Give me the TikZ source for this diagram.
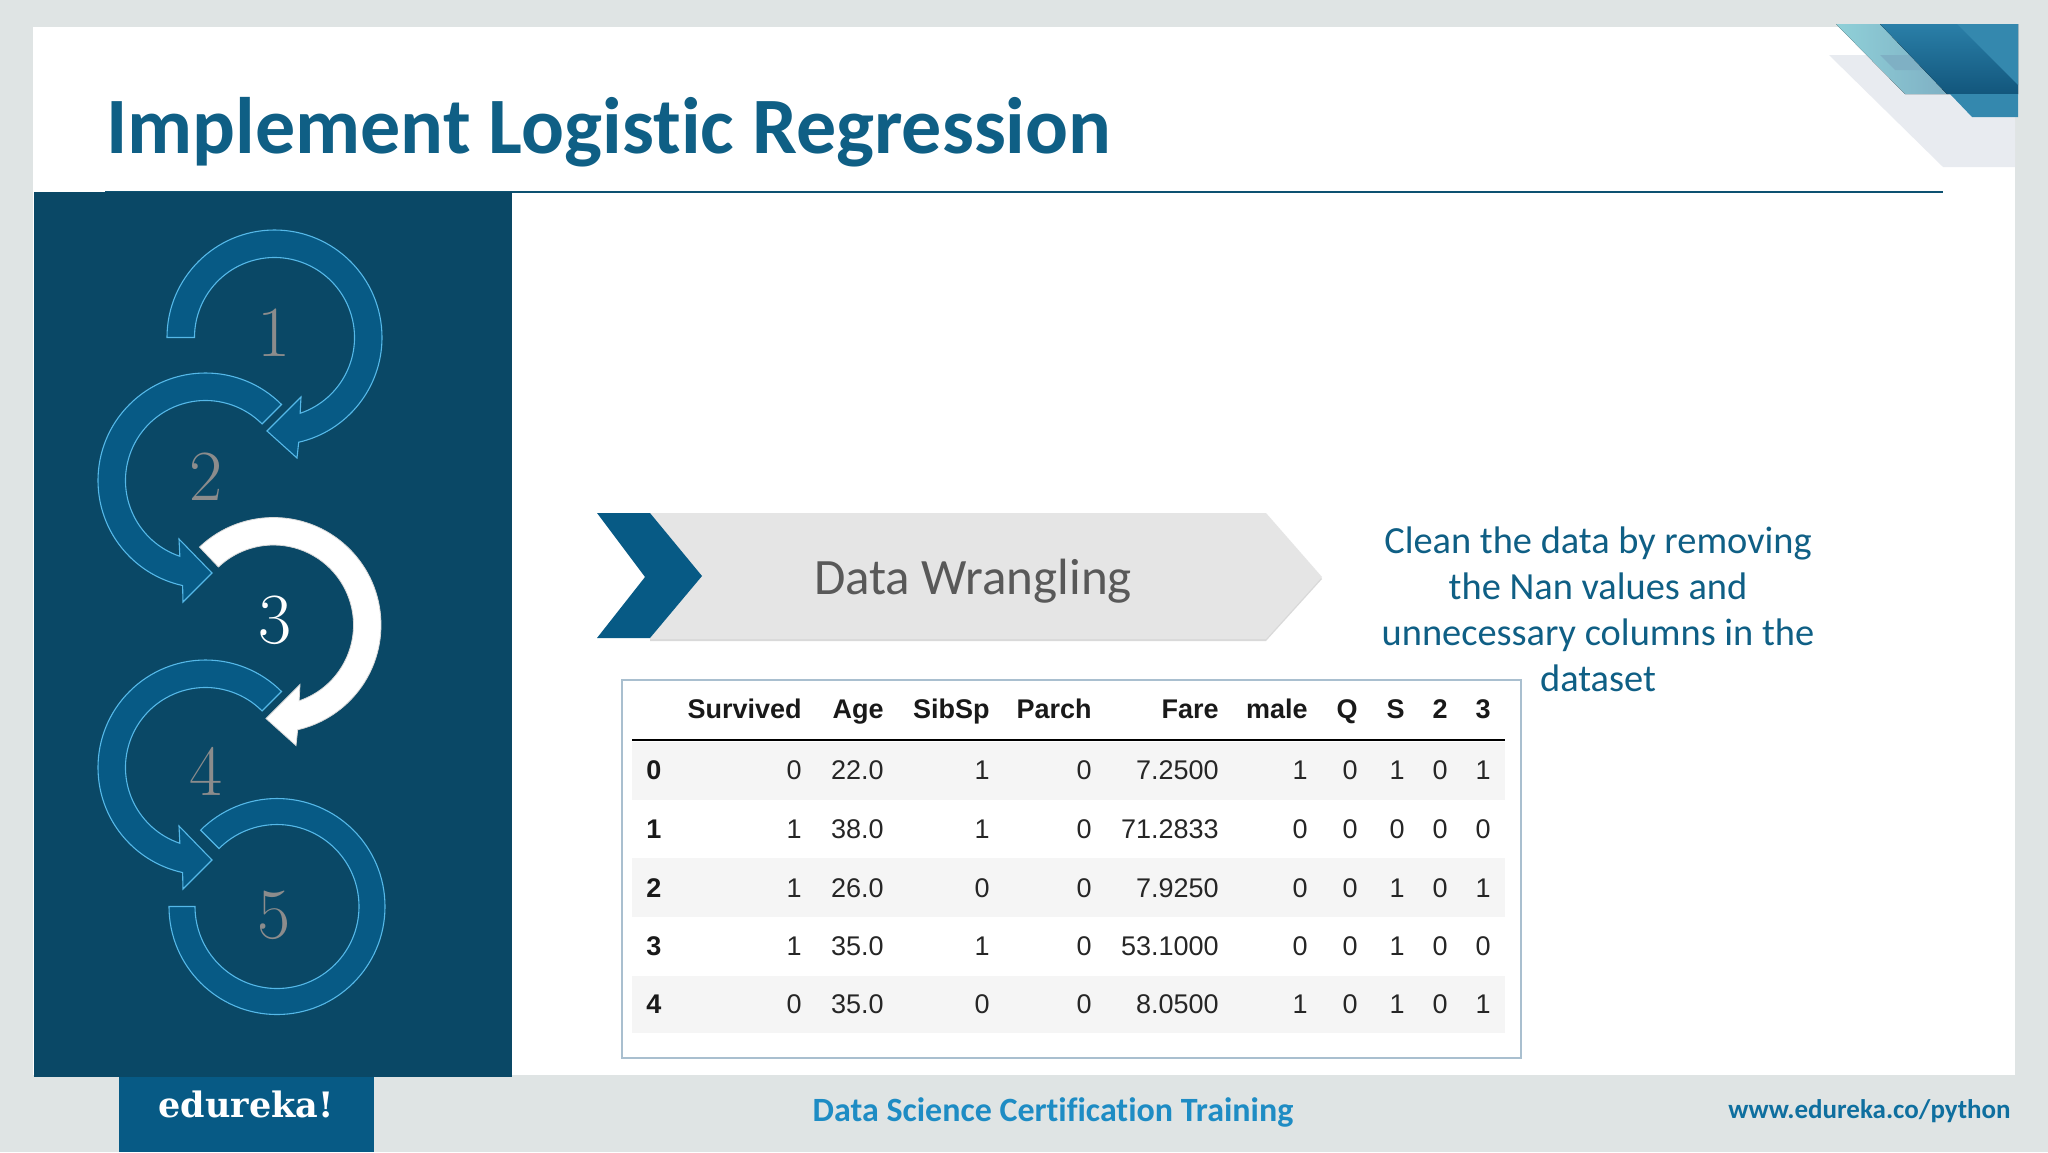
\documentclass[tikz,border=0pt]{standalone}
\usepackage{fontspec}
\newfontfamily\slidefont[Ligatures=NoCommon]{Carlito}
\newfontfamily\tablefont{Liberation Sans}
\newfontfamily\logofont{DejaVu Serif}
\definecolor{pagegray}{HTML}{DFE4E4}
\definecolor{panelblue}{HTML}{0A4866}
\definecolor{ringblue}{HTML}{075A85}
\definecolor{ringline}{HTML}{55B8E8}
\definecolor{titleblue}{HTML}{0F5F85}
\definecolor{footblue}{HTML}{1E8CC4}
\definecolor{siteblue}{HTML}{0F6F9F}
\definecolor{stripe}{HTML}{F5F5F5}
\definecolor{tableline}{HTML}{A9BFCF}
\definecolor{bandgray}{HTML}{E8EBF0}
\definecolor{tealone}{HTML}{8FD0D8}
\definecolor{tealtwo}{HTML}{7FB0C4}
\definecolor{deepone}{HTML}{2A7FA8}
\definecolor{deeptwo}{HTML}{12567C}
\definecolor{midblue}{HTML}{3488AE}
% clockwise ring, head at the bottom: cx, cy, start angle, style
\newcommand{\ringcw}[4]{
  \draw[#4, shift={(#1,#2)}] (#3:53.75pt) arc[start angle=#3, end angle=-77, radius=53.75pt]
    -- (22.5,120.5) -- (-7.5,93.5) -- (26.5,59.5) -- (-71.3:40pt)
    arc[start angle=-71.3, end angle=#3, radius=40pt] -- cycle;
}
% anticlockwise ring, head at the bottom: cx, cy, style
\newcommand{\ringccw}[3]{
  \draw[#3, shift={(#1,#2)}] (45:53.75pt) arc[start angle=45, end angle=257.7, radius=53.75pt]
    -- (-22.5,121.5) -- (6.5,92.5) -- (-26.5,58.5) -- (251.3:40pt)
    arc[start angle=251.3, end angle=45, radius=40pt] -- cycle;
}
\begin{document}
\begin{tikzpicture}[x=0.5pt, y=-0.5pt,
    ring/.style ={fill=ringblue, draw=ringline, line width=0.55pt},
    whitering/.style ={fill=white, draw=white!85!black, line width=0.4pt},
    numeral/.style ={text=gray!90, font=\fontsize{36}{36}\selectfont},
    headcell/.style ={anchor=base east, inner sep=0pt, text=black!90, font=\tablefont\bfseries\fontsize{13.5}{14}\selectfont},
    bodycell/.style ={anchor=base east, inner sep=0pt, text=black!85, font=\tablefont\fontsize{13.5}{14}\selectfont},
    indexcell/.style ={anchor=base west, inner sep=0pt, text=black!90, font=\tablefont\bfseries\fontsize{13.5}{14}\selectfont}]
   \useasboundingbox (0,0) rectangle (2048,1152);
   \fill[pagegray] (0,0) rectangle (2048,1152);
   \fill[white] (33,27) rectangle (2015,1075);

   % corner
   \fill[bandgray] (1829,55) -- (2015,55) -- (2015,167) -- (1943,167) -- cycle;
   \fill[left color=tealone, right color=tealtwo] (1836,24) -- (1880,24) -- (1947,94) -- (1905,94) -- cycle;
   \fill[tealtwo] (1880,55) -- (1910,55) -- (1925,70) -- (1895,70) -- cycle;
   \fill[top color=deepone, bottom color=deeptwo] (1880,24) -- (2018,24) -- (2018,94) -- (1947,94) -- cycle;
   \fill[midblue] (1950,94) -- (2018,94) -- (2018,117) -- (1972,117) -- cycle;
   \fill[midblue] (1957,24) -- (2018,24) -- (2018,85) -- cycle;

   % title
   \node[anchor=base west, inner sep=0pt, text=titleblue, font=\slidefont\bfseries\fontsize{40}{40}\selectfont] (title) at (106,153) {Implement Logistic Regression};
   \draw[line width=1pt, color=titleblue!85!black] (105,192) -- (1943,192);

   % left panel
   \fill[panelblue] (34,192) rectangle (512,1077);
   \fill[ringblue] (119,1077) rectangle (374,1152);
   \ringcw{274.5}{337.5}{180}{ring}
   \ringccw{205.5}{480.5}{ring}
   \ringcw{273.5}{625}{133.5}{whitering}
   \ringccw{205.5}{767.5}{ring}
   \draw[ring, shift={(277,906.5)}] (180:54pt) arc[start angle=180, end angle=495, radius=54pt]
     -- (135:41pt) arc[start angle=495, end angle=180, radius=41pt] -- cycle;
   \node[numeral] (one) at (274,333) {1};
   \node[numeral] (two) at (206,477) {2};
   \node[numeral, text=white] (three) at (275,620) {3};
   \node[numeral] (four) at (206,771) {4};
   \node[numeral] (five) at (274,915) {5};

   % step banner
   \fill[black!15] (650,515) -- (1266,515) -- (1322,579) -- (1266,641) -- (650,641) -- cycle;
   \fill[black!10] (650,513) -- (1266,513) -- (1322,577) -- (1266,639) -- (650,639) -- cycle;
   \fill[ringblue] (597,513) -- (650,513) -- (702,576) -- (650,638) -- (597,638) -- (645,577) -- cycle;
   \node[anchor=base, inner sep=0pt, text=black!65, font=\slidefont\fontsize{25.5}{25.5}\selectfont] (step) at (973,594) {Data Wrangling};
   \node[align=center, text=titleblue, inner sep=0pt, font=\slidefont\fontsize{19.2}{23}\selectfont] (note) at (1598,609)
     {Clean the data by removing\\the Nan values and\\unnecessary columns in the\\dataset};

   % table
   \draw[color=tableline, line width=0.6pt] (622,680) rectangle (1521,1058);
   \fill[stripe] (632,742) rectangle (1505,800);
   \fill[stripe] (632,858) rectangle (1505,917);
   \fill[stripe] (632,976) rectangle (1505,1033);
   \draw[line width=1.2pt] (632,740) -- (1505,740);
   \foreach \x/\t in {802/Survived,884/Age,990/SibSp,1092/Parch,1219/Fare,1308/male,1358/Q,1405/S,1448/2,1491/3}
     \node[headcell] (head\x) at (\x,718) {\t};
   \node[indexcell] (row0) at (646,779) {0};
   \node[indexcell] (row1) at (646,838) {1};
   \node[indexcell] (row2) at (646,897) {2};
   \node[indexcell] (row3) at (646,955) {3};
   \node[indexcell] (row4) at (646,1013) {4};
   \foreach \x/\t in {802/0,884/22.0,990/1,1092/0,1219/7.2500,1308/1,1358/0,1405/1,1448/0,1491/1}
     \node[bodycell] (a\x) at (\x,779) {\t};
   \foreach \x/\t in {802/1,884/38.0,990/1,1092/0,1219/71.2833,1308/0,1358/0,1405/0,1448/0,1491/0}
     \node[bodycell] (b\x) at (\x,838) {\t};
   \foreach \x/\t in {802/1,884/26.0,990/0,1092/0,1219/7.9250,1308/0,1358/0,1405/1,1448/0,1491/1}
     \node[bodycell] (c\x) at (\x,897) {\t};
   \foreach \x/\t in {802/1,884/35.0,990/1,1092/0,1219/53.1000,1308/0,1358/0,1405/1,1448/0,1491/0}
     \node[bodycell] (d\x) at (\x,955) {\t};
   \foreach \x/\t in {802/0,884/35.0,990/0,1092/0,1219/8.0500,1308/1,1358/0,1405/1,1448/0,1491/1}
     \node[bodycell] (e\x) at (\x,1013) {\t};

   % footer
   \node[text=white, inner sep=0pt, font=\logofont\bfseries\fontsize{17.5}{17.5}\selectfont] (logo) at (246,1104) {edureka!};
   \node[text=footblue, inner sep=0pt, font=\slidefont\bfseries\fontsize{17}{17}\selectfont] (course) at (1053,1112) {Data Science Certification Training};
   \node[anchor=east, text=siteblue, inner sep=0pt, font=\slidefont\bfseries\fontsize{13.5}{13.5}\selectfont] (site) at (2011,1111) {www.edureka.co/python};
 \end{tikzpicture}
\end{document}
